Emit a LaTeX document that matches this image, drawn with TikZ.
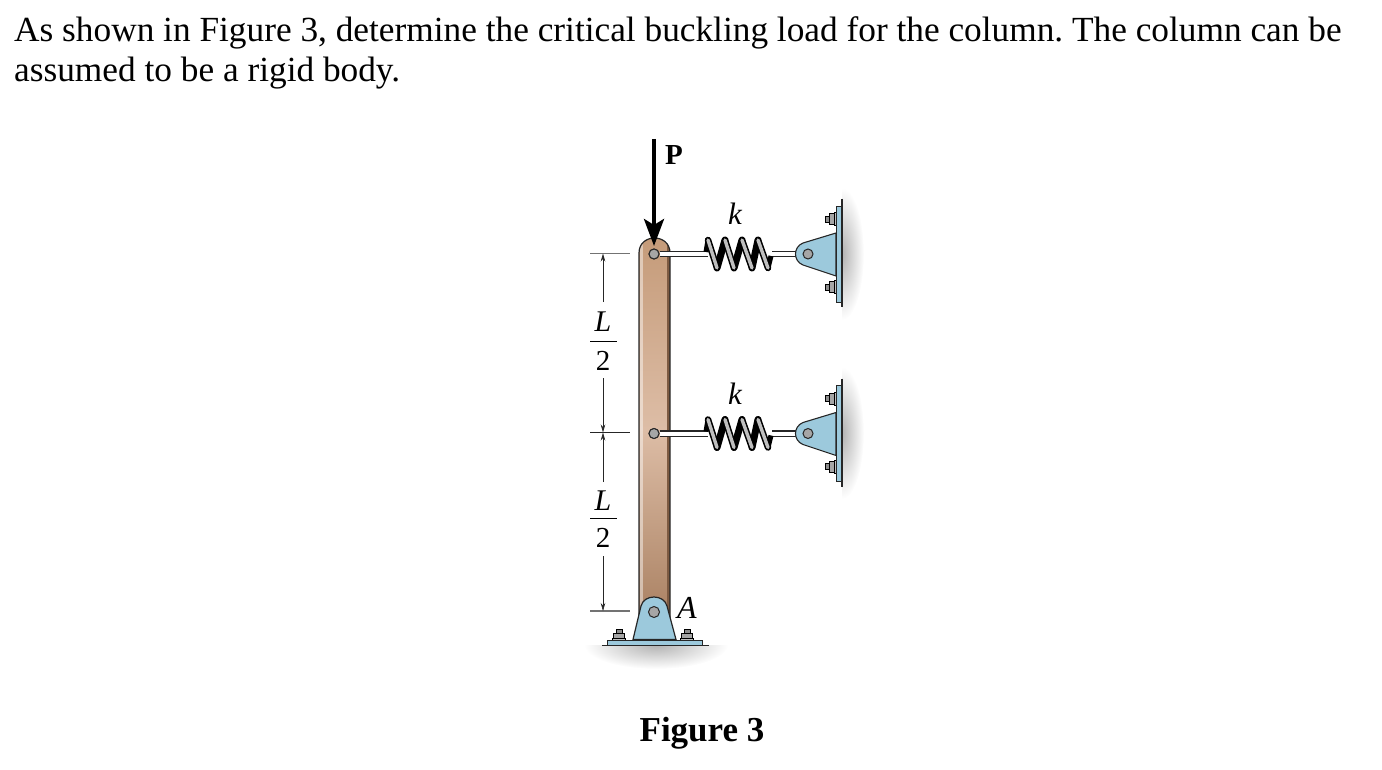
\documentclass[tikz,border=0pt]{standalone}
\usepackage{fontspec}
\setmainfont{Liberation Serif}
\usetikzlibrary{positioning, arrows.meta}
\definecolor{woodtop}{HTML}{C49A78}
\definecolor{woodmid}{HTML}{DDBDA6}
\definecolor{woodlow}{HTML}{A87F60}
\definecolor{woodedge}{HTML}{7E5B42}
\definecolor{steelblue}{HTML}{9CC9DC}
\tikzset{
    dimline/.style={-{Stealth[length=8pt,width=4.5pt]}, line width=0.6pt, black!85},
    tickline/.style={line width=1.4pt, black!55},
    dimtext/.style={font=\fontsize{30}{30}\selectfont\itshape, inner sep=0pt},
    pinball/.style={circle, draw=black!85, line width=1pt, fill=black!35, minimum size=10pt, inner sep=0pt},
    plateline/.style={line width=1.5pt, black!85},
    bolt/.pic={
        \draw [fill=black!45, line width=0.7pt] (-3,-7) rectangle (3,-11);
        \draw [fill=black!35, line width=0.7pt] (-5.5,-2) rectangle (5.5,-7);
        \draw [fill=black!25, line width=0.7pt] (-6.5,0) rectangle (6.5,-2);
    }
}
\begin{document}
\frenchspacing
\begin{tikzpicture}[x=1pt, y=-1pt]
    \useasboundingbox (0,0) rectangle (1382,770);

    \node (question) [anchor=north west, align=left, inner sep=0pt, font=\fontsize{35.3}{40}\selectfont] at (14,16) {As shown in Figure 3, determine the critical buckling load for the column. The column can be\\assumed to be a rigid body.};
    \node (caption) [font=\fontsize{35}{40}\selectfont\bfseries, inner sep=0pt] at (702,733) {Figure 3};

    \begin{scope}
        \clip (580,645) rectangle (735,675);
        \shade [inner color=black!30, outer color=white, draw=none] (656,645) ellipse (72 and 24);
    \end{scope}
    \foreach \shadowy in {254, 433} {
        \begin{scope}
            \clip (842,\shadowy-70) rectangle (870,\shadowy+70);
            \shade [inner color=black!30, outer color=white, draw=none] (842,\shadowy) ellipse (22 and 66);
        \end{scope}
    }

    \shade [top color=woodtop, bottom color=woodlow, middle color=woodmid]
        (639,625) -- (639,253) .. controls (639,233) and (670,233) .. (670,253) -- (670,625) -- cycle;
    \begin{scope}
        \clip (639,625) -- (639,253) .. controls (639,233) and (670,233) .. (670,253) -- (670,625) -- cycle;
        \fill [woodedge] (667,230) rectangle (671,625);
        \fill [white, opacity=0.45] (640,230) rectangle (642.5,625);
    \end{scope}
    \draw [black!85, line width=1.2pt]
        (639,625) -- (639,253) .. controls (639,233) and (670,233) .. (670,253) -- (670,625);

    \foreach \level/\shift in {upper/0, lower/179.5} {
        \begin{scope}[yshift=-\shift pt]
            \node (k\level) [font=\fontsize{31}{31}\selectfont\itshape, inner sep=0pt] at (735,214) {k};
            \node (pin\level) [pinball] at (654,254) {};
            \node (wallpin\level) [pinball] at (808,254) {};
            \coordinate (springin\level) at (708,254);
            \coordinate (springout\level) at (772,254);

            \draw [line width=6.5pt, black!85] (pin\level) -- (springin\level);
            \draw [line width=4pt, white] (pin\level) -- (springin\level);
            \draw [line width=6.5pt, black!85] (springout\level) -- (wallpin\level);
            \draw [line width=4pt, white] (springout\level) -- (wallpin\level);
            \node [pinball] at (pin\level) {};

            \draw [line width=7pt, black, line cap=round]
                (717,268) -- (725,240) (734,268) -- (742,240) (752,268) -- (758,240);
            \draw [line width=5pt, black] (706,252) -- (708,240) (768,268) -- (771,256);
            \foreach \topx/\botx in {708/717, 725/734, 742/752, 758/768} {
                \draw [line width=6.5pt, black, line cap=round] (\topx,240) -- (\botx,268);
                \draw [line width=3.4pt, black!25, line cap=round] (\topx,240) -- (\botx,268);
            }

            \draw [fill=steelblue, draw=black!85, line width=1.1pt]
                (836,233) -- (803,243) .. controls (793,247) and (793,261) .. (803,265) -- (836,276) -- cycle;
            \node [pinball] at (wallpin\level) {};

            \pic [rotate=90] at (836,219) {bolt};
            \pic [rotate=90] at (836,287) {bolt};
            \fill [steelblue] (836,206) rectangle (842,302);
            \draw [line width=0.9pt, black!85] (836,206) rectangle (842,302);
            \draw [plateline] (842,199) -- (842,307);
        \end{scope}
    }

    \draw [line width=4pt, -{Stealth[length=27pt,width=20pt,inset=6pt]}] (654,139) -- (654,246);
    \node (load) [font=\fontsize{29}{29}\selectfont\bfseries, inner sep=0pt] at (674,155) {P};

    \pic at (619,640) {bolt};
    \pic at (687,640) {bolt};
    \draw [fill=steelblue, draw=black!85, line width=1.2pt]
        (633,639.5) -- (641,606) .. controls (644,594) and (664,594) .. (667,606) -- (676,639.5) -- cycle;
    \node (pinbase) [pinball, minimum size=11pt] at (654,612) {};
    \draw [fill=steelblue, draw=black!85, line width=0.9pt] (607,640) rectangle (702,645);
    \draw [plateline] (602,645.5) -- (709,645.5);
    \node (fixed) [font=\fontsize{32}{32}\selectfont\itshape, inner sep=0pt] at (687,608) {A};

    \coordinate (dimtop) at (603,253.5);
    \coordinate (dimmid) at (603,432.5);
    \coordinate (dimbot) at (603,611);
    \draw [tickline] (590,253.5) -- (630,253.5);
    \draw [line width=0.6pt, black!85] (590,432.5) -- (630,432.5);
    \draw [tickline] (590,611) -- (630,611);

    \node (Lupper) [dimtext] at (603,322) {L};
    \node (twoupper) [dimtext, font=\fontsize{29}{29}\selectfont] at (603,361) {2};
    \node (Llower) [dimtext] at (603,501) {L};
    \node (twolower) [dimtext, font=\fontsize{29}{29}\selectfont] at (603,538) {2};
    \draw [line width=0.8pt] (590,341) -- (617,341);
    \draw [line width=0.8pt] (590,518) -- (617,518);

    \coordinate (gapA) at (603,302);
    \coordinate (gapB) at (603,378);
    \coordinate (gapC) at (603,482);
    \coordinate (gapD) at (603,556);
    \draw [dimline] (gapA) -- (dimtop);
    \draw [dimline] (gapB) -- (dimmid);
    \draw [dimline] (gapC) -- (dimmid);
    \draw [dimline] (gapD) -- (dimbot);
\end{tikzpicture}
\end{document}
